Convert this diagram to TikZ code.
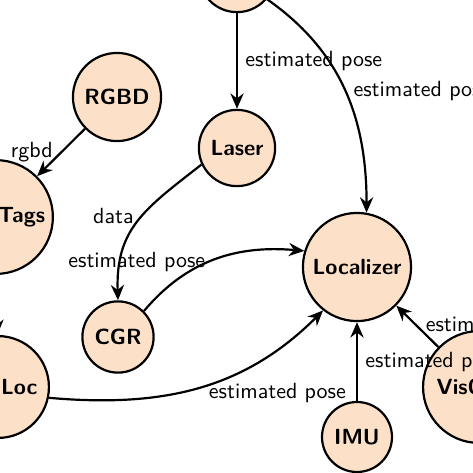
\documentclass[tikz,border=0pt]{standalone}
\usetikzlibrary{arrows.meta}
\definecolor{bisque}{RGB}{252,225,200}

\begin{document}
\begin{tikzpicture}[
    x=0.16mm, y=0.16mm,
    font=\sffamily,
    mod/.style={
        draw,
        circle,
        line width=1pt,
        fill=bisque,
        inner sep=0pt,
        font=\sffamily\bfseries
    },
    cut/.style={inner sep=0pt, font=\sffamily\bfseries},
    flow/.style={-{Stealth[length=7pt, width=6pt]}, line width=1pt}
]
\useasboundingbox (0,0) rectangle (473,-473);
\clip (0,0) rectangle (473,-473);

\node[mod, minimum size=12.2mm] (pose) at (237,26) {};
\node[mod, minimum size=14.1mm] (rgbd) at (117,-97) {RGBD};
\node[mod, minimum size=18.2mm, label={[cut, xshift=4.1mm]center:Tags}] (tags) at (-4,-217) {};
\node[mod, minimum size=16.3mm, label={[cut, xshift=3.4mm]center:Loc}] (loc) at (-2,-387) {};
\node[mod, minimum size=12.2mm] (laser) at (237,-148) {Laser};
\node[mod, minimum size=11.4mm] (cgr) at (118,-337) {CGR};
\node[mod, minimum size=17.3mm] (localizer) at (357,-267) {Localizer};
\node[mod, minimum size=11.2mm] (imu) at (357,-437) {IMU};
\node[mod, minimum size=17.9mm, label={[cut, xshift=-2.9mm]center:VisO}] (viso) at (479,-387) {};
\coordinate (locfeed) at (-4,-250);

\draw[flow] (pose) -- node[right] {estimated pose} (laser);
\draw[flow] (pose.-40) to[out=-35, in=90] node[pos=.5, right] {estimated pose} (localizer.80);
\draw[flow] (rgbd) -- node[left] {rgbd} (tags);
\draw[flow] (laser.205) to[out=218, in=92, looseness=1.15] node[pos=.45, left] {data} (cgr.north);
\draw[flow] (cgr.45) to[out=50, in=175] node[pos=.38, above left, xshift=2.7mm, yshift=-2mm] {estimated pose} (localizer.163);
\draw[flow] (loc.-12) to[out=-5, in=225] node[pos=.75, xshift=2.4mm, yshift=-5.4mm] {estimated pose} (localizer.232);
\draw[flow] (imu) -- node[right] {estimated pose} (localizer);
\draw[flow] (viso) -- node[right] {estimated pose} (localizer);
\draw[flow] (locfeed) -- (loc);
\end{tikzpicture}
\end{document}
